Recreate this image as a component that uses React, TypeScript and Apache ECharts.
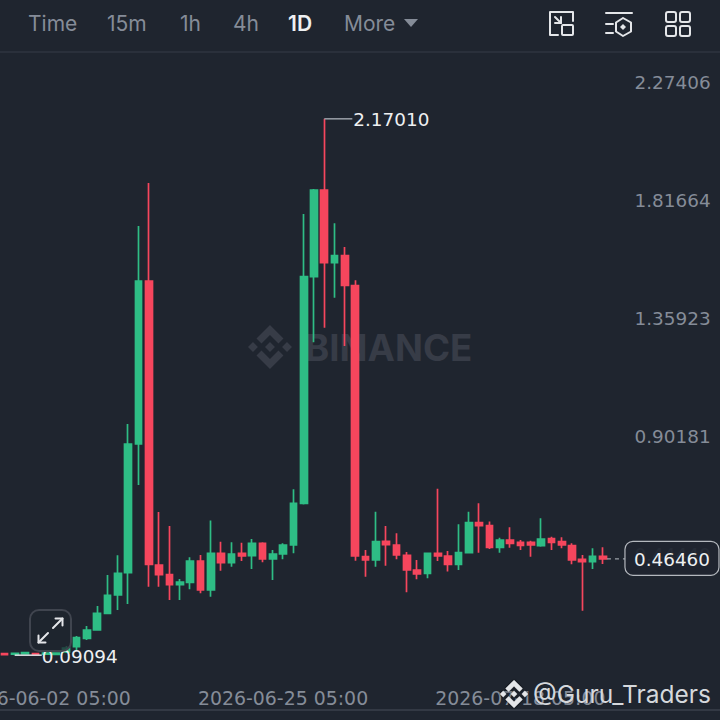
import React, { useEffect, useRef } from "react";
import * as echarts from "echarts";

const BG = "#1f252f";
const GREEN = "#2ebd85";
const RED = "#f6465d";
const MUTED = "#858c98";
const FONT = "Inter, 'Noto Sans', sans-serif";
const NUM_FONT = "'DejaVu Sans', sans-serif";

const opens = [0.0975, 0.0945, 0.0955, 0.0975, 0.095, 0.094, 0.1033, 0.1238, 0.1564, 0.1886, 0.2533, 0.3243, 0.4107, 0.9096, 1.5415, 0.4405, 0.403, 0.3642, 0.3735, 0.456, 0.3437, 0.4859, 0.4495, 0.4859, 0.4766, 0.5246, 0.4638, 0.4832, 0.5181, 0.6797, 1.5582, 1.8942, 1.6123, 1.6395, 1.5233, 0.4727, 0.4599, 0.5325, 0.5181, 0.4781, 0.4211, 0.4083, 0.4859, 0.4754, 0.4432, 0.4882, 0.6045, 0.5928, 0.5092, 0.5375, 0.5285, 0.5285, 0.5154, 0.5425, 0.5309, 0.5154, 0.4626, 0.4533, 0.4742];
const closes = [0.093, 0.0985, 0.1013, 0.0936, 0.0995, 0.0994, 0.1188, 0.1587, 0.1886, 0.2533, 0.3231, 0.4084, 0.9096, 1.5415, 0.4433, 0.403, 0.3642, 0.3747, 0.456, 0.3437, 0.4859, 0.4495, 0.4832, 0.4754, 0.5246, 0.4638, 0.4832, 0.5181, 0.6797, 1.5582, 1.8942, 1.6123, 1.6395, 1.5248, 0.4754, 0.4599, 0.5309, 0.5193, 0.4793, 0.4211, 0.4056, 0.4859, 0.4754, 0.4432, 0.4882, 0.6045, 0.5928, 0.5092, 0.5375, 0.5246, 0.5169, 0.5181, 0.5413, 0.5285, 0.5181, 0.4599, 0.4533, 0.4742, 0.4646];
const lows = [0.0925, 0.09094, 0.0945, 0.0925, 0.093, 0.093, 0.0994, 0.111, 0.1498, 0.188, 0.2506, 0.2661, 0.2894, 0.7506, 0.3565, 0.3565, 0.3049, 0.3049, 0.3464, 0.3309, 0.3177, 0.4185, 0.4339, 0.456, 0.425, 0.451, 0.3824, 0.4626, 0.4859, 0.675, 1.3039, 1.3605, 1.4767, 1.2895, 0.4572, 0.3953, 0.4339, 0.4378, 0.4626, 0.3347, 0.3855, 0.3894, 0.456, 0.4153, 0.4211, 0.4859, 0.4882, 0.5026, 0.4882, 0.5076, 0.4987, 0.4727, 0.5115, 0.4987, 0.5053, 0.4433, 0.2634, 0.425, 0.4444];
const highs = [0.0985, 0.1, 0.104, 0.099, 0.101, 0.102, 0.1266, 0.1653, 0.2041, 0.2816, 0.4018, 0.4781, 0.9871, 1.7546, 1.9213, 0.646, 0.5917, 0.3863, 0.4704, 0.4793, 0.6127, 0.5309, 0.5285, 0.527, 0.5413, 0.5285, 0.4987, 0.5246, 0.734, 1.8011, 1.8981, 2.1701, 1.7652, 1.6732, 1.5442, 0.4987, 0.6471, 0.5917, 0.5634, 0.4909, 0.4599, 0.4882, 0.7363, 0.4948, 0.5982, 0.6471, 0.6797, 0.6095, 0.5464, 0.5867, 0.5375, 0.5348, 0.6215, 0.5503, 0.548, 0.5246, 0.4793, 0.5053, 0.5092];

const priceTicks = [0.4444, 0.90181, 1.35923, 1.81664, 2.27406];
const dateTicks = ["2026-06-02 05:00", "2026-06-25 05:00", "2026-07-18 05:00"];
const firstDay = "2026-05-29";
const bandCount = 70;

const highMark = { index: 31, price: 2.1701, label: "2.17010" };
const lowMark = { index: 1, price: 0.09094, label: "0.09094" };
const lastPrice = { index: 58, price: 0.4646, label: "0.46460" };

const headerTabs = [
  { text: "Time", x: 28, active: false },
  { text: "15m", x: 107, active: false },
  { text: "1h", x: 180, active: false },
  { text: "4h", x: 233, active: false },
  { text: "1D", x: 288, active: true },
  { text: "More", x: 344, active: false },
];

const BINANCE_PATH =
  "M16.624 13.9202l2.7175 2.7154-7.353 7.353-7.353-7.352 2.7175-2.7164 4.6355 4.6595 4.6356-4.6595zm4.6366-4.6366L24 12l-2.7154 2.7164L18.5682 12l2.6924-2.7164zm-9.272.001l2.7163 2.6914-2.7164 2.7174v-.001L9.2721 12l2.7164-2.7154zm-9.2722-.001L5.4088 12l-2.6914 2.6924L0 12l2.7164-2.7164zM11.9885.0115l7.353 7.329-2.7174 2.7154-4.6356-4.6356-4.6355 4.6595-2.7174-2.7154 7.353-7.353z";
echarts.graphic.registerShape("binanceLogo", echarts.graphic.extendPath(BINANCE_PATH, {}));

function buildCategories(): string[] {
  const start = new Date(firstDay + "T05:00:00Z").getTime();
  const out: string[] = [];
  for (let i = 0; i < bandCount; i++) {
    const d = new Date(start + i * 86400000).toISOString().slice(0, 10);
    out.push(d + " 05:00");
  }
  return out;
}

function line(points: number[][], color: string, width = 2, z = 100) {
  return {
    type: "polyline",
    z,
    silent: true,
    shape: { points },
    style: { stroke: color, lineWidth: width, fill: "none", lineCap: "round", lineJoin: "round" },
  };
}

function box(x: number, y: number, w: number, h: number, color: string, r = 2) {
  return {
    type: "rect",
    z: 100,
    silent: true,
    shape: { x, y, width: w, height: h, r },
    style: { stroke: color, lineWidth: 2, fill: "none" },
  };
}

function buildGraphics() {
  const ICON = "#e4e6e9";
  const tabs = headerTabs.map((t) => ({
    type: "text",
    z: 100,
    silent: true,
    x: t.x,
    y: 23,
    style: {
      text: t.text,
      fill: t.active ? "#eef0f2" : MUTED,
      font: `${t.active ? 600 : 400} 21px ${FONT}`,
      textAlign: "left",
      textVerticalAlign: "middle",
    },
  }));
  return [
    { type: "rect", z: 0, silent: true, shape: { x: 0, y: 51, width: 720, height: 2 }, style: { fill: "#2a303b" } },
    ...tabs,
    { type: "polygon", z: 100, silent: true, shape: { points: [[404, 19], [418, 19], [411, 27]] }, style: { fill: MUTED } },
    line([[573, 21], [573, 12], [550, 12], [550, 35], [558, 35]], ICON),
    box(562, 25, 11, 10, ICON, 1),
    line([[555, 17], [561, 23]], ICON),
    line([[555, 23], [561, 23], [561, 17]], ICON),
    line([[606, 13], [632, 13]], ICON),
    line([[606, 24], [613, 24]], ICON),
    line([[606, 33], [613, 33]], ICON),
    line([[623, 18], [631, 22.5], [631, 31.5], [623, 36], [616, 31.5], [616, 22.5], [623, 18]], ICON),
    { type: "polygon", z: 100, silent: true, shape: { points: [[623, 24], [626, 27], [623, 30], [620, 27]] }, style: { fill: ICON } },
    box(666, 12, 10, 10, ICON),
    box(680, 12, 10, 10, ICON),
    box(666, 26, 10, 10, ICON),
    box(680, 26, 10, 10, ICON),
    { type: "binanceLogo", z: 0, silent: true, x: 248, y: 325, scaleX: 1.833, scaleY: 1.833, style: { fill: "#373c47" } },
    {
      type: "text",
      z: 0,
      silent: true,
      x: 305,
      y: 347,
      style: { text: "BINANCE", fill: "#373c47", font: `700 36.7px ${FONT}`, textAlign: "left", textVerticalAlign: "middle" },
    },
    {
      type: "rect",
      z: 100,
      silent: true,
      shape: { x: 30, y: 610, width: 41, height: 41, r: 9 },
      style: { fill: "rgba(31,37,47,0.75)", stroke: "#40454f", lineWidth: 2 },
    },
    line([[53, 628], [62.5, 618.5]], ICON),
    line([[55.5, 618.5], [62.5, 618.5], [62.5, 625.5]], ICON),
    line([[48, 633], [38.5, 642.5]], ICON),
    line([[38.5, 635.5], [38.5, 642.5], [45.5, 642.5]], ICON),
    { type: "binanceLogo", z: 110, silent: true, x: 500, y: 680, scaleX: 1.17, scaleY: 1.17, style: { fill: "#e4e6e9", shadowColor: "#000", shadowBlur: 2 } },
    {
      type: "text",
      z: 110,
      silent: true,
      x: 533,
      y: 694,
      style: { text: "@Guru_Traders", fill: "#d5d8dc", font: `400 24.5px ${FONT}`, textAlign: "left", textVerticalAlign: "middle" },
    },
  ];
}

function renderMark(params: any, api: any) {
  const marks = [highMark, lowMark];
  const m = marks[params.dataIndex];
  const p = api.coord([m.index, m.price]);
  const connector = m === highMark ? 28 : 27;
  const gap = m === highMark ? 1 : 0;
  return {
    type: "group",
    children: [
      {
        type: "line",
        shape: { x1: p[0], y1: p[1], x2: p[0] + connector, y2: p[1] },
        style: { stroke: m === highMark ? "#9aa0a8" : "#e0e2e5", lineWidth: 1.5 },
      },
      {
        type: "text",
        x: p[0] + connector + gap,
        y: p[1] + 1,
        style: { text: m.label, fill: "#eef0f2", font: `400 18.4px ${NUM_FONT}`, textAlign: "left", textVerticalAlign: "middle" },
      },
    ],
  };
}

function renderLast(_params: any, api: any) {
  const p = api.coord([lastPrice.index, lastPrice.price]);
  const left = p[0] + 22;
  return {
    type: "group",
    children: [
      {
        type: "line",
        shape: { x1: p[0] + 4, y1: p[1], x2: left, y2: p[1] },
        style: { stroke: "#9aa0a8", lineWidth: 1.2, lineDash: [4, 4] },
      },
      {
        type: "rect",
        shape: { x: left, y: p[1] - 17.5, width: 94, height: 34, r: 8 },
        style: { fill: "rgba(31,37,47,0.93)", stroke: "#b4b8be", lineWidth: 1.2 },
      },
      {
        type: "text",
        x: left + 47,
        y: p[1] + 0.5,
        style: { text: lastPrice.label, fill: "#eef0f2", font: `400 18.4px ${NUM_FONT}`, textAlign: "center", textVerticalAlign: "middle" },
      },
    ],
  };
}

export default function App() {
  const ref = useRef<HTMLDivElement>(null);

  useEffect(() => {
    document.body.style.margin = "0";
    document.body.style.background = BG;
    const chart = echarts.init(ref.current!, undefined, { renderer: "svg" });
    const categories = buildCategories();
    chart.setOption({
      animation: false,
      backgroundColor: BG,
      textStyle: { fontFamily: FONT },
      grid: { left: -0.76, top: 52, width: 722.4, height: 658, containLabel: false, outerBoundsMode: "none" },
      xAxis: {
        type: "category",
        data: categories,
        axisLine: { show: true, onZero: false, lineStyle: { color: "#3b414c", width: 1.5 } },
        axisTick: { show: false },
        splitLine: { show: false },
        axisLabel: {
          inside: true,
          margin: 3,
          interval: (_i: number, v: string) => dateTicks.includes(v),
          color: MUTED,
          fontSize: 18.9,
          fontFamily: NUM_FONT,
          verticalAlign: "bottom",
          hideOverlap: false,
        },
      },
      yAxis: {
        type: "value",
        position: "right",
        min: -0.12155,
        max: 2.42912,
        axisLine: { show: false },
        axisTick: { show: false },
        splitLine: { show: false },
        axisLabel: {
          inside: true,
          margin: 11,
          customValues: priceTicks,
          formatter: (v: number) => v.toFixed(5),
          color: MUTED,
          fontSize: 18.4,
          fontFamily: NUM_FONT,
          verticalAlign: "bottom",
          lineHeight: 20,
        },
      },
      graphic: buildGraphics(),
      series: [
        {
          type: "candlestick",
          barWidth: 7.2,
          z: 5,
          itemStyle: { color: GREEN, color0: RED, borderColor: GREEN, borderColor0: RED, borderWidth: 1.7 },
          data: opens.map((o, i) => [o, closes[i], lows[i], highs[i]]),
        },
        {
          type: "custom",
          z: 20,
          silent: true,
          renderItem: renderMark,
          data: [
            [highMark.index, highMark.price],
            [lowMark.index, lowMark.price],
          ],
          encode: { x: 0, y: 1 },
        },
        {
          type: "custom",
          z: 20,
          silent: true,
          renderItem: renderLast,
          data: [[lastPrice.index, lastPrice.price]],
          encode: { x: 0, y: 1 },
        },
      ],
    });
    return () => chart.dispose();
  }, []);

  return <div ref={ref} style={{ position: "absolute", left: 0, top: 0, width: 720, height: 720 }} />;
}
